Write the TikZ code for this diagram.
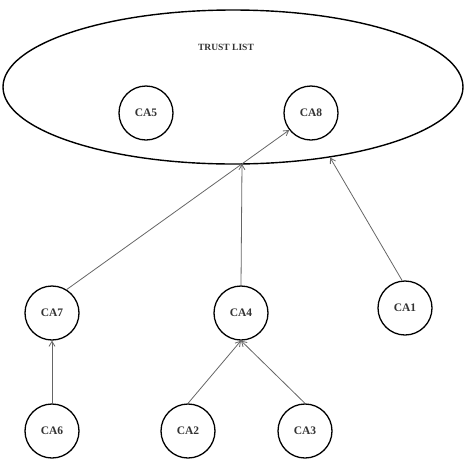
\documentclass[tikz,border=0pt]{standalone}
\usepackage{fontspec}
\setmainfont{Liberation Serif}
\usetikzlibrary{shapes.geometric,arrows.meta}
\begin{document}
\begin{tikzpicture}[x=1pt,y=-1pt,
  ca/.style={circle,draw=black,line width=1.3pt,minimum size=54pt,inner sep=0pt,
    font=\fontsize{11.5}{13}\selectfont\bfseries,text=black!80},
  link/.style={draw=black!60,line width=0.8pt,-{Straight Barb[length=5pt,width=6pt]}}]
\useasboundingbox (0,0) rectangle (474,464);
\node[ellipse,draw=black,line width=1.4pt,minimum width=460pt,minimum height=154pt,inner sep=0pt] (trust) at (233,87) {};
\node[font=\fontsize{9.5}{11}\selectfont\bfseries,text=black!80] (title) at (226,47) {TRUST LIST};
\node[ca] (ca5) at (146,113) {CA5};
\node[ca] (ca8) at (311,113) {CA8};
\node[ca] (ca7) at (52,313) {CA7};
\node[ca] (ca4) at (241,313) {CA4};
\node[ca] (ca1) at (405,308) {CA1};
\node[ca] (ca6) at (52,431) {CA6};
\node[ca] (ca2) at (188,431) {CA2};
\node[ca] (ca3) at (305,431) {CA3};
\coordinate (e4) at (242,164);
\draw[link] (ca7.58) -- (ca8.218);
\draw[link] (ca4.north) -- (e4);
\draw[link] (ca1.96) -- (trust.-36);
\draw[link] (ca6) -- (ca7);
\draw[link] (ca2.north) -- (ca4.south);
\draw[link] (ca3.north) -- (ca4.south);
\end{tikzpicture}
\end{document}
